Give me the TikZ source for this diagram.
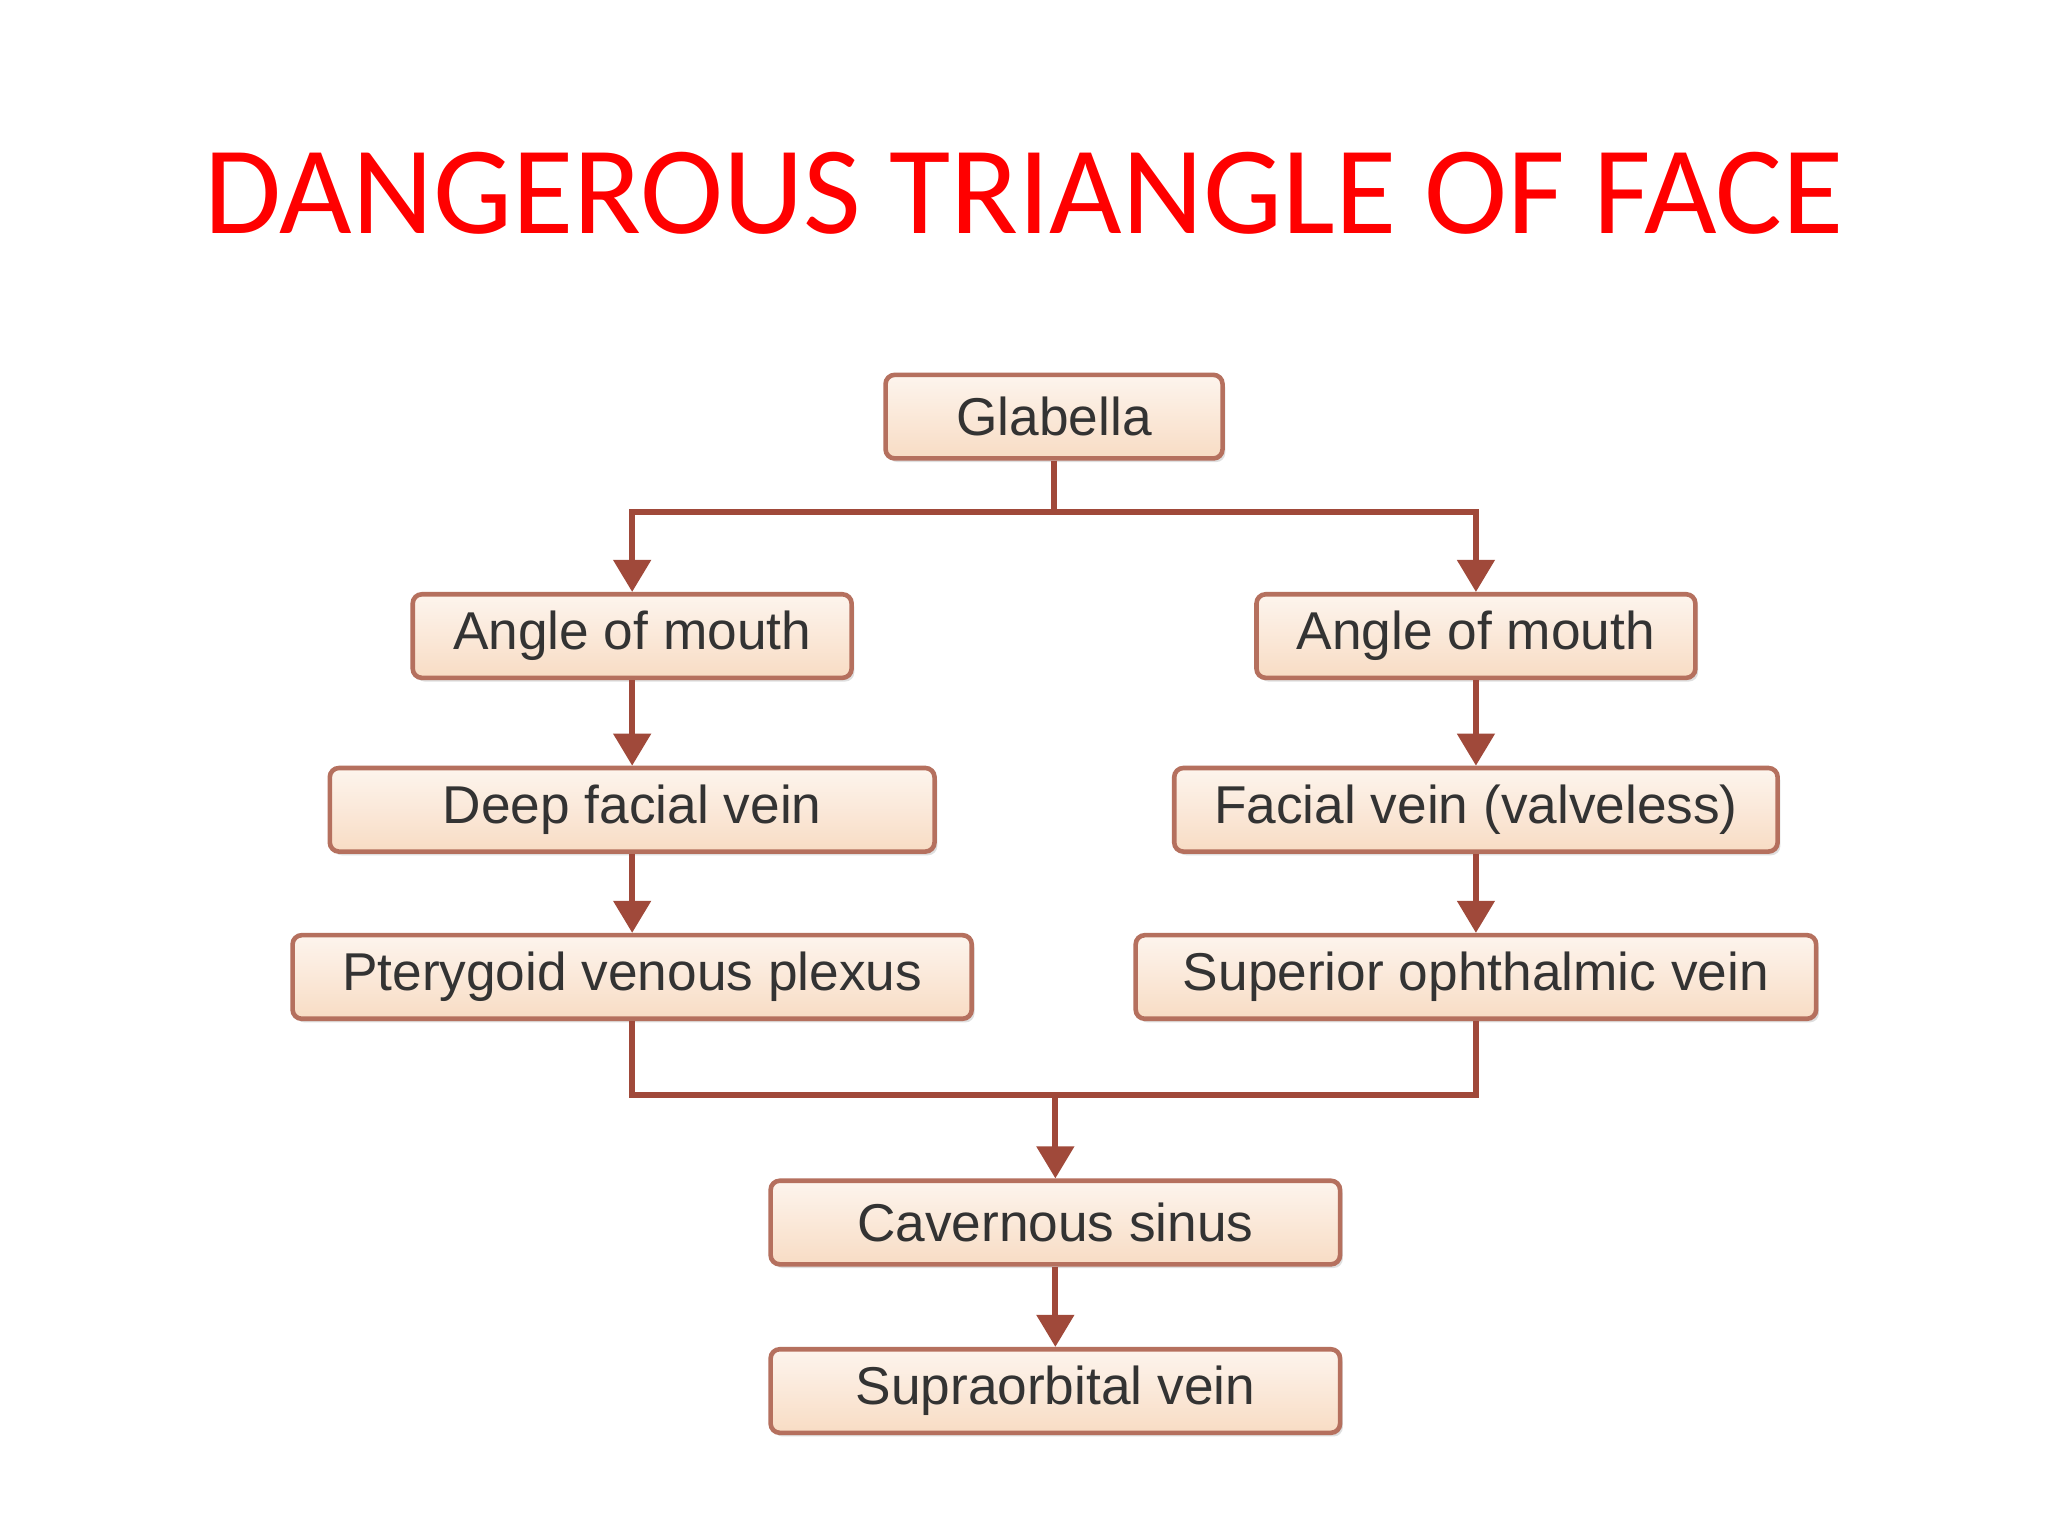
\documentclass[tikz,border=0pt]{standalone}
\usepackage{fontspec}
\setmainfont{Liberation Sans}
\newfontfamily\titlefont{Carlito}
\usetikzlibrary{arrows.meta,shadows}
\definecolor{boxline}{HTML}{B5705E}
\definecolor{boxfill}{HTML}{F8DCC4}
\definecolor{linkcol}{HTML}{A0493A}
\tikzset{
  veinbox/.style={draw=boxline, line width=1pt, rounded corners=2pt,
    top color=white!70!boxfill, bottom color=boxfill, minimum height=0.64cm,
    font=\fontsize{11.6}{13}\selectfont, text=black!80, drop shadow={opacity=0.25,shadow xshift=0.6pt,shadow yshift=-0.8pt}},
  link/.style={draw=linkcol, line width=1.3pt},
  flow/.style={link, -{Triangle[length=7pt,width=8pt]}}
}
\begin{document}
\begin{tikzpicture}
\useasboundingbox[fill=white] (0,0) rectangle (15.68,-11.76);
\node[text=red, font=\titlefont\fontsize{27.3}{32}\selectfont] (title) at (7.84,-1.48) {DANGEROUS TRIANGLE OF FACE};
\node[veinbox, minimum width=2.58cm] (glab) at (8.07,-3.19) {Glabella};
\node[veinbox, minimum width=3.36cm] (angleL) at (4.84,-4.87) {Angle of mouth};
\node[veinbox, minimum width=3.36cm] (angleR) at (11.30,-4.87) {Angle of mouth};
\node[veinbox, minimum width=4.63cm] (deep) at (4.84,-6.20) {Deep facial vein};
\node[veinbox, minimum width=4.62cm] (facial) at (11.30,-6.20) {Facial vein (valveless)};
\node[veinbox, minimum width=5.20cm] (ptery) at (4.84,-7.48) {Pterygoid venous plexus};
\node[veinbox, minimum width=5.21cm] (supoph) at (11.30,-7.48) {Superior ophthalmic vein};
\node[veinbox, minimum width=4.36cm] (cav) at (8.08,-9.36) {Cavernous sinus};
\node[veinbox, minimum width=4.36cm] (supra) at (8.08,-10.65) {Supraorbital vein};
% branching from glabella
\coordinate (split) at (8.07,-3.92);
\draw[link] (glab.south) -- (split);
\draw[flow] (split) -| (angleL.north);
\draw[flow] (split) -| (angleR.north);
% the two chains
\draw[flow] (angleL) -- (deep);
\draw[flow] (deep) -- (ptery);
\draw[flow] (angleR) -- (facial);
\draw[flow] (facial) -- (supoph);
% joining at the sinus
\coordinate (join) at (8.08,-8.38);
\draw[link] (ptery.south) |- (join) -| (supoph.south);
\draw[flow] (join) -- (cav.north);
\draw[flow] (cav) -- (supra);
\end{tikzpicture}
\end{document}
